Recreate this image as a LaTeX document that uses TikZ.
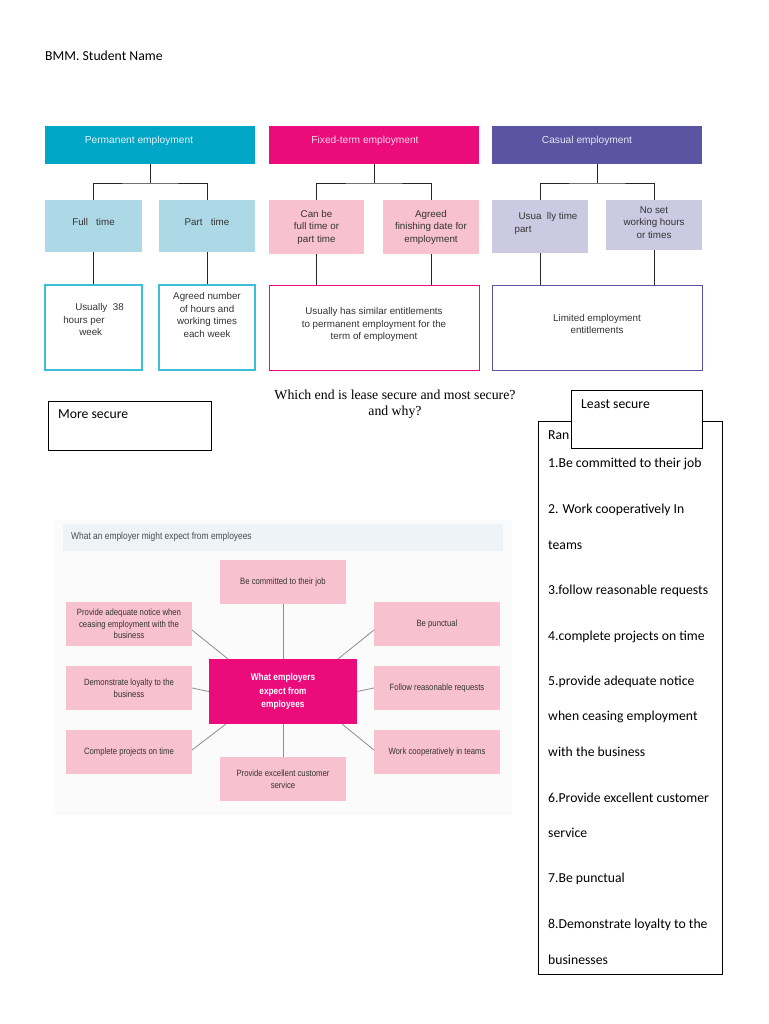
\documentclass[tikz,border=0pt]{standalone}
\usepackage{fontspec}
\setmainfont{Liberation Sans}
\newfontfamily\carl{Carlito}
\newfontfamily\tserif{Liberation Serif}
\newfontfamily\narrowsans[FakeStretch=0.85]{Liberation Sans}
\definecolor{cTeal}{HTML}{00A6C6}
\definecolor{cMag}{HTML}{EC0B7B}
\definecolor{cPurp}{HTML}{5A55A3}
\definecolor{cLBlue}{HTML}{ADD9E6}
\definecolor{cPink}{HTML}{F8C1CF}
\definecolor{cLav}{HTML}{CCCAE3}
\definecolor{cTealL}{HTML}{3BBFD6}
\definecolor{cTxt}{HTML}{333333}
\definecolor{cBg}{HTML}{FBFBFB}
\definecolor{cBand}{HTML}{EEF3F7}
\definecolor{cGrayLn}{HTML}{8C8C8C}
\definecolor{cHdrTxt}{HTML}{E4F2F7}
\tikzset{
  hdr/.style={rectangle, inner sep=0, minimum width=210, minimum height=38},
  hdrtxt/.style={inner sep=0, text=cHdrTxt, font=\fontsize{10.2}{12}\selectfont},
  cbox/.style={rectangle, inner sep=0, align=center, text=cTxt, font=\fontsize{9.8}{12.5}\selectfont},
  bbox/.style={rectangle, inner sep=0, fill=white, line width=1.1, align=center, text=cTxt, font=\fontsize{9.8}{12.5}\selectfont},
  conn/.style={draw=black!85, line width=0.9},
  pbox/.style={rectangle, inner sep=0, fill=cPink, minimum width=126, minimum height=44, align=center, text=cTxt, font=\narrowsans\fontsize{9.1}{11.5}\selectfont},
  gconn/.style={draw=cGrayLn, line width=0.8},
  wordtxt/.style={anchor=west, inner sep=0, font=\carl\fontsize{13.7}{15}\selectfont},
  plainbox/.style={rectangle, draw=black, line width=0.9, inner sep=0}
}
\begin{document}
\begin{tikzpicture}[x=1pt,y=-1pt]
\useasboundingbox (0,0) rectangle (768,1024);
\fill[white] (0,0) rectangle (768,1024);

\node[wordtxt] (title) at (45,56) {BMM. Student Name};

% ---------- Permanent ----------
\node[hdr, fill=cTeal] (perm) at (150,145) {};
\node[hdrtxt] (permT) at (139,141) {Permanent employment};
\node[cbox, fill=cLBlue, minimum width=97, minimum height=52] (full) at (93.5,226) {Full\ \ \ time\\[-4.5pt]};
\node[cbox, fill=cLBlue, minimum width=96, minimum height=52] (part) at (207,226) {Part\ \ \ time\\[-4.5pt]};
\coordinate (permJ) at (150,183);
\draw[conn] (perm.south) -- (permJ);
\draw[conn] (full.north) |- (permJ) -| (part.north);
\node[bbox, draw=cTealL, minimum width=97, minimum height=85, align=left] (usual) at (93.5,327.5) {\hspace{12pt}Usually\ \ 38\\hours per\\\hspace{16pt}week\\[3.5pt]};
\node[bbox, draw=cTealL, minimum width=96, minimum height=85] (agreed) at (207,327.5) {Agreed number\\of hours and\\working times\\each week\\[13pt]};
\draw[conn] (full.south) -- (usual.north);
\draw[conn] (part.south) -- (agreed.north);

% ---------- Fixed-term ----------
\node[hdr, fill=cMag] (fixed) at (374,145) {};
\node[hdrtxt, text=white!85!cMag] (fixedT) at (365,141) {Fixed-term employment};
\node[cbox, fill=cPink, minimum width=95, minimum height=54] (can) at (316.5,227) {Can be\\full time or\\part time};
\node[cbox, fill=cPink, minimum width=96, minimum height=54] (fin) at (431,227) {Agreed\\finishing date for\\employment};
\coordinate (fixedJ) at (374,183);
\draw[conn] (fixed.south) -- (fixedJ);
\draw[conn] (can.north) |- (fixedJ) -| (fin.north);
\node[bbox, draw=cMag, line width=0.8, minimum width=210, minimum height=85] (ftb) at (374,327.5) {Usually has similar entitlements\\to permanent employment for the\\term of employment\\[-4.5pt]};
\draw[conn] (can.south) -- (can.south |- ftb.north);
\draw[conn] (fin.south) -- (fin.south |- ftb.north);

% ---------- Casual ----------
\node[hdr, fill=cPurp] (casual) at (597,145) {};
\node[hdrtxt, text=white!85!cPurp] (casualT) at (587,141) {Casual employment};
\node[cbox, fill=cLav, minimum width=96, minimum height=53, align=left] (usu) at (540,226.5) {\hspace{16pt}Usua\ \ lly time\\\hspace{12pt}part\\[-4.5pt]};
\node[cbox, fill=cLav, minimum width=96, minimum height=50] (noset) at (654,225) {No set\\working hours\\or times\\[-7pt]};
\coordinate (casualJ) at (597,183);
\draw[conn] (casual.south) -- (casualJ);
\draw[conn] (usu.north) |- (casualJ) -| (noset.north);
\node[bbox, draw=cPurp, line width=0.8, minimum width=210, minimum height=85] (cab) at (597,327.5) {Limited employment\\entitlements\\[-5.5pt]};
\draw[conn] (usu.south) -- (usu.south |- cab.north);
\draw[conn] (noset.south) -- (noset.south |- cab.north);

% ---------- Middle ----------
\node[align=center, inner sep=0, font=\tserif\fontsize{13.8}{16}\selectfont] (question) at (395,404) {Which end is lease secure and most secure?\\and why?};
\node[plainbox, minimum width=163, minimum height=49] (more) at (129.5,425.5) {};
\node[wordtxt] (moreT) at (58,414) {More secure};

% ---------- Ranking ----------
\node[plainbox, minimum width=184, minimum height=553] (rank) at (630,697.5) {};
\node[wordtxt] (rank0) at (548,435) {Ran};
\foreach \yy/\tt [count=\i] in {
  464/1.Be committed to their job,
  510/2. Work cooperatively In,
  545/teams,
  591/3.follow reasonable requests,
  637/4.complete projects on time,
  682/5.provide adequate notice,
  717/when ceasing employment,
  752/with the business,
  798/6.Provide excellent customer,
  833/service,
  879/7.Be punctual,
  925/8.Demonstrate loyalty to the,
  960/businesses}
  \node[wordtxt] (rk\i) at (548,\yy) {\tt};
\node[plainbox, fill=white, minimum width=131, minimum height=58] (least) at (636.5,419) {};
\node[wordtxt] (leastT) at (581,404) {Least secure};

% ---------- Employer expectations ----------
\fill[cBg] (55,520) rectangle (512,815);
\node[rectangle, fill=cBand, inner sep=0, minimum width=440, minimum height=27, anchor=north west] (band) at (63,524) {};
\node[anchor=west, inner sep=0, text=black!70, font=\narrowsans\fontsize{9.9}{11}\selectfont] (bandT) at (71,537) {What an employer might expect from employees};

\node[rectangle, fill=cMag, inner sep=0, minimum width=148, minimum height=65, align=center, text=white, font=\narrowsans\bfseries\fontsize{9.8}{13.5}\selectfont] (ctr) at (283,691.5) {What employers\\expect from\\employees};
\node[pbox] (commit) at (283,582) {Be committed to their job};
\node[pbox] (notice) at (129,624) {Provide adequate notice when\\ceasing employment with the\\business};
\node[pbox] (punct) at (437,624) {Be punctual};
\node[pbox] (loyal) at (129,688) {Demonstrate loyalty to the\\business};
\node[pbox] (follow) at (437,688) {Follow reasonable requests};
\node[pbox] (projects) at (129,752) {Complete projects on time};
\node[pbox] (teams) at (437,752) {Work cooperatively in teams};
\node[pbox] (service) at (283,779) {Provide excellent customer\\service};

\coordinate (cNW) at (228,659);
\coordinate (cNE) at (338,659);
\coordinate (cSW) at (226,724);
\coordinate (cSE) at (342,724);
\coordinate (nE) at (192,630);
\coordinate (pW) at (374,630);
\coordinate (prE) at (192,750);
\coordinate (tW) at (374,750);
\draw[gconn] (ctr.north) -- (commit.south);
\draw[gconn] (ctr.south) -- (service.north);
\draw[gconn] (ctr.west) -- (loyal.east);
\draw[gconn] (ctr.east) -- (follow.west);
\draw[gconn] (cNW) -- (nE);
\draw[gconn] (cNE) -- (pW);
\draw[gconn] (cSW) -- (prE);
\draw[gconn] (cSE) -- (tW);
\end{tikzpicture}
\end{document}
